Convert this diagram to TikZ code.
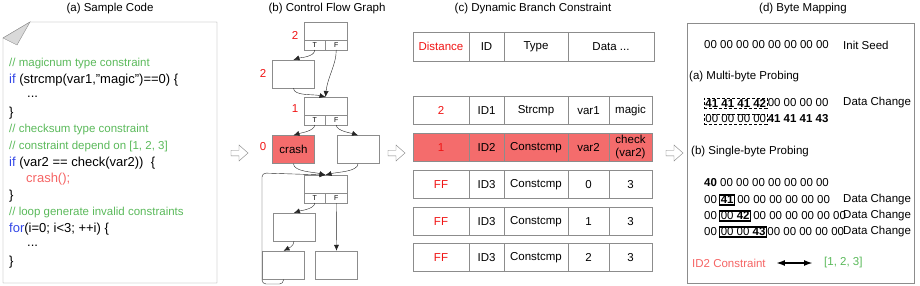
\documentclass[tikz,border=0pt]{standalone}
\usepackage{fontspec}
\setmainfont{Liberation Sans}
\usepackage{tikz}
\usetikzlibrary{arrows.meta}

\definecolor{cmtgreen}{RGB}{90,185,90}
\definecolor{kwblue}{RGB}{50,70,230}
\definecolor{crashpink}{RGB}{245,100,100}
\definecolor{hotred}{RGB}{240,20,20}
\definecolor{rowred}{RGB}{244,108,108}
\definecolor{edgegray}{RGB}{140,140,140}

\tikzset{hollowarr/.pic={
  \draw[edgegray!90!black,fill=white] (0,-2.8) -- (8,-2.8) -- (8,-8) -- (17,0) -- (8,8) -- (8,2.8) -- (0,2.8) -- cycle;}}

\begin{document}
\begin{tikzpicture}[x=1pt,y=-1pt,font=\fontsize{11.5}{13}\selectfont,
    codeln/.style={anchor=west,inner sep=0pt,font=\fontsize{13}{15}\selectfont},
    cmtln/.style={anchor=west,inner sep=0pt,text=cmtgreen},
    blk/.style={draw=edgegray,minimum width=42pt,minimum height=28pt,inner sep=0pt},
    condtop/.style={draw=edgegray,minimum width=43pt,minimum height=18pt,inner sep=0pt,outer sep=0pt},
    tfcell/.style={draw=edgegray,minimum width=21.5pt,minimum height=10pt,inner sep=0pt,outer sep=0pt,font=\fontsize{7}{8}\selectfont},
    flow/.style={-{Latex[length=6pt,width=5pt]},black!85},
    dist/.style={text=hotred},
    cell/.style={draw=edgegray,minimum height=28.5pt,inner sep=0pt,outer sep=0pt,anchor=north west,align=center},
    bytes/.style={anchor=west,inner sep=0pt},
    probe/.style={draw,densely dashed,thick,inner sep=1pt},
    pick/.style={draw,line width=1.3pt,inner sep=1pt}]
  \useasboundingbox (0,0) rectangle (920,286);

  % titles
  \node (ttla) at (110,9) {(a) Sample Code};
  \node (ttlb) at (327,9) {(b) Control Flow Graph};
  \node (ttlc) at (533,9) {(c) Dynamic Branch Constraint};
  \node (ttld) at (803,9) {(d) Byte Mapping};

  % (a) sample code
  \draw[edgegray] (30,22) -- (217,22) -- (217,283) -- (3,283) -- (3,38) -- cycle;
  \draw[edgegray,fill=gray!30] (30,22) -- (3,38) -- (17,45) -- cycle;
  \node[cmtln] (ln1) at (9,64) {// magicnum type constraint};
  \node[codeln] (ln2) at (9,80.5) {\textcolor{kwblue}{if} (strcmp(var1,”magic”)==0) \{};
  \node[codeln] (ln3) at (27,97) {...};
  \node[codeln] (ln4) at (9,113.5) {\}};
  \node[cmtln] (ln5) at (9,130) {// checksum type constraint};
  \node[cmtln] (ln6) at (9,146.5) {// constraint depend on [1, 2, 3]};
  \node[codeln] (ln7) at (9,163) {\textcolor{kwblue}{if} (var2 == check(var2))\ \ \{};
  \node[codeln,text=crashpink] (ln8) at (26,179.5) {crash();};
  \node[codeln] (ln9) at (9,196) {\}};
  \node[cmtln] (ln10) at (9,212.5) {// loop generate invalid constraints};
  \node[codeln] (ln11) at (9,229) {\textcolor{kwblue}{for}(i=0; i<3; ++i) \{};
  \node[codeln] (ln12) at (27,245.5) {...};
  \node[codeln] (ln13) at (9,262) {\}};

  \pic at (231,153) {hollowarr};

  % (b) control flow graph
  \node[condtop] (c1) at (325.5,31) {};
  \node[tfcell,anchor=north east] (c1t) at (c1.south) {T};
  \node[tfcell,anchor=north west] (c1f) at (c1.south) {F};
  \node[blk] (b2) at (293.5,74) {};
  \node[condtop] (c2) at (325.5,106) {};
  \node[tfcell,anchor=north east] (c2t) at (c2.south) {T};
  \node[tfcell,anchor=north west] (c2f) at (c2.south) {F};
  \node[blk,fill=rowred] (crash) at (293.5,149.5) {crash};
  \node[blk] (b3) at (358,149.5) {};
  \node[condtop] (c3) at (325.5,184) {};
  \node[tfcell,anchor=north east] (c3t) at (c3.south) {T};
  \node[tfcell,anchor=north west] (c3f) at (c3.south) {F};
  \node[blk] (b5) at (294,227) {};
  \node[blk] (b6) at (283.5,265) {};
  \node[blk] (b7) at (336.5,265) {};

  \node[dist] (lvc1) at (295,35) {2};
  \node[dist] (lvb2) at (263,73) {2};
  \node[dist] (lvc2) at (295,109) {1};
  \node[dist] (lvcrash) at (263,147) {0};

  \draw[flow] (c1t.south) .. controls +(0,7) and +(6,-2) .. (b2.north);
  \draw[flow] (c1f.south) .. controls +(0,15) and +(2,-20) .. (c2.north);
  \draw[flow] (b2.south) .. controls +(0,8) and +(-12,-3) .. (c2.north);
  \draw[flow] (c2t.south) .. controls +(0,6) and +(6,-2) .. (crash.north);
  \draw[flow] (c2f.south) .. controls +(0,6) and +(-6,-2) .. (b3.north);
  \draw[flow] (crash.south) .. controls +(0,8) and +(-12,-3) .. (c3.north);
  \draw[flow] (b3.south) .. controls +(0,8) and +(12,-3) .. (c3.north);
  \draw[flow] (c3t.south) .. controls +(0,6) and +(6,-2) .. (b5.north);
  \draw[flow] (c3f.south) -- (b7.north);
  \draw[flow] (b5.south) .. controls +(0,5) and +(4,-2) .. (b6.north);
  \coordinate (lpa) at (262,284);
  \coordinate (lpb) at (262,173);
  \draw[flow,rounded corners=4pt] (b6.south) |- (lpa) -- (lpb) -- (c3.north);

  \pic at (388,153) {hollowarr};

  % (c) dynamic branch constraint
  \node[cell,dist,minimum width=56pt,minimum height=29pt] (hdist) at (413,32) {Distance};
  \node[cell,minimum width=35pt,minimum height=29pt] (hid) at (hdist.north east) {ID};
  \node[cell,minimum width=64pt,minimum height=29pt] (htype) at (hid.north east) {Type};
  \node[cell,minimum width=86pt,minimum height=29pt] (hdata) at (htype.north east) {Data ...};
  \foreach \ry/\dv/\iv/\tv/\av/\bv/\bg [count=\r] in {96/2/ID1/Strcmp/var1/magic/white,
      133/1/ID2/Constcmp/var2/{check\\(var2)}/rowred, 170/FF/ID3/Constcmp/0/3/white,
      207/FF/ID3/Constcmp/1/3/white, 243/FF/ID3/Constcmp/2/3/white}{
    \node[cell,fill=\bg,dist,minimum width=56pt] (d\r) at (413,\ry) {\dv};
    \node[cell,fill=\bg,minimum width=35pt] (i\r) at (d\r.north east) {\iv};
    \node[cell,fill=\bg,minimum width=64pt] (t\r) at (i\r.north east) {\tv};
    \node[cell,fill=\bg,minimum width=41pt] (a\r) at (t\r.north east) {\av};
    \node[cell,fill=\bg,minimum width=43pt] (b\r) at (a\r.north east) {\bv};
  }

  \pic at (666,153) {hollowarr};

  % (d) byte mapping
  \draw[edgegray] (687,23) rectangle (914,283);
  \node[bytes] (seed) at (704,45) {00 00 00 00 00 00 00 00};
  \node[bytes] (seedtag) at (843,45) {Init Seed};
  \node[bytes] (multi) at (689,77) {(a) Multi-byte Probing};
  \node[bytes,probe] (m1a) at (704,103) {\textbf{41 41 41 42}};
  \node[bytes] (m1b) at (m1a.east) {00 00 00 00};
  \node[bytes] (m1tag) at (843,103) {Data Change};
  \node[bytes,probe] (m2a) at (704,119) {00 00 00 00};
  \node[bytes] (m2b) at (m2a.east) {\textbf{41 41 41 43}};
  \node[bytes] (single) at (691,152) {(b) Single-byte Probing};
  \node[bytes] (s0) at (704,183) {\textbf{40} 00 00 00 00 00 00 00};
  \node[bytes] (s1a) at (704,200) {00\,};
  \node[bytes,pick] (s1b) at (s1a.east) {\textbf{41}};
  \node[bytes] (s1c) at (s1b.east) {\,00 00 00 00 00 00};
  \node[bytes] (s1tag) at (843,200) {Data Change};
  \node[bytes] (s2a) at (704,216) {00\,};
  \node[bytes,pick] (s2b) at (s2a.east) {00 \textbf{42}};
  \node[bytes] (s2c) at (s2b.east) {\,00 00 00 00 00 00};
  \node[bytes] (s2tag) at (843,216) {Data Change};
  \node[bytes] (s3a) at (704,232) {00\,};
  \node[bytes,pick] (s3b) at (s3a.east) {00 00 \textbf{43}};
  \node[bytes] (s3c) at (s3b.east) {00 00 00 00 00};
  \node[bytes] (s3tag) at (843,232) {Data Change};
  \node[bytes,text=crashpink] (idc) at (692,263) {ID2 Constraint};
  \node[bytes,text=cmtgreen] (rng) at (824,263) {[1, 2, 3]};
  \draw[{Latex[length=9pt,width=6pt]}-{Latex[length=9pt,width=6pt]},line width=2pt] ([xshift=10pt]idc.east) -- ([xshift=-11pt]rng.west);
\end{tikzpicture}
\end{document}
